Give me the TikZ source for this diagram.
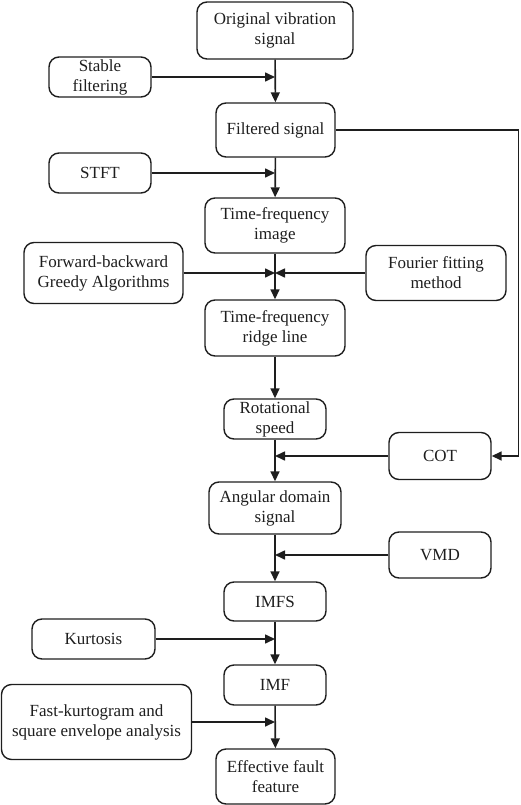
\documentclass[tikz,border=0pt]{standalone}
\usepackage{fontspec}
\setmainfont{Liberation Serif}
\usetikzlibrary{arrows.meta}
\definecolor{ink}{HTML}{1E1E1E}
\tikzset{
  box/.style={draw=ink, line width=1.4pt, rounded corners=10pt, align=center, inner sep=0pt,
    font=\fontsize{17}{20}\selectfont, text=ink},
  conn/.style={draw=ink, line width=1.6pt, -{Triangle[length=10pt,width=9pt]}}
}
\begin{document}
\begin{tikzpicture}[x=1pt,y=-1pt]
\useasboundingbox (0,0) rectangle (520,805);
\node[box, minimum width=156pt, minimum height=57pt] (orig) at (275,30.5) {Original vibration\\signal};
\node[box, minimum width=102pt, minimum height=40pt] (stable) at (100,77) {Stable\\filtering};
\node[box, minimum width=119pt, minimum height=54pt] (filt) at (275.5,130) {Filtered signal};
\node[box, minimum width=102pt, minimum height=40pt] (stft) at (100,173) {STFT};
\node[box, minimum width=140pt, minimum height=55pt] (tfi) at (275,225.5) {Time-frequency\\image};
\node[box, minimum width=159pt, minimum height=61pt] (fb) at (103.5,273) {Forward-backward\\Greedy Algorithms};
\node[box, minimum width=140pt, minimum height=55pt] (ff) at (436,273) {Fourier fitting\\method};
\node[box, minimum width=140pt, minimum height=56pt] (ridge) at (275,328) {Time-frequency\\ridge line};
\node[box, minimum width=102pt, minimum height=40pt] (rot) at (275,419) {Rotational\\speed};
\node[box, minimum width=102pt, minimum height=47pt] (cot) at (440,456) {COT};
\node[box, minimum width=132pt, minimum height=52pt] (ang) at (275,508) {Angular domain\\signal};
\node[box, minimum width=102pt, minimum height=46pt] (vmd) at (440,555) {VMD};
\node[box, minimum width=102pt, minimum height=39pt] (imfs) at (275,601.5) {IMFS};
\node[box, minimum width=123pt, minimum height=40pt] (kurt) at (93.5,639) {Kurtosis};
\node[box, minimum width=102pt, minimum height=40pt] (imf) at (275,685) {IMF};
\node[box, minimum width=190pt, minimum height=75pt] (fk) at (96.5,722) {Fast-kurtogram and\\square envelope analysis};
\node[box, minimum width=119pt, minimum height=55pt] (eff) at (275.5,776.5) {Effective fault\\feature};
\coordinate (corner1) at (518.5,130);
\coordinate (corner2) at (518.5,456);
% main flow
\draw[conn] (orig) -- (filt);
\draw[conn] (filt) -- (tfi);
\draw[conn] (tfi) -- (ridge);
\draw[conn] (ridge) -- (rot);
\draw[conn] (rot) -- (ang);
\draw[conn] (ang) -- (imfs);
\draw[conn] (imfs) -- (imf);
\draw[conn] (imf) -- (eff);
% side inputs
\draw[conn] (stable.east) -- (stable.east -| orig.south);
\draw[conn] (stft.east) -- (stft.east -| orig.south);
\draw[conn] (fb.east) -- (fb.east -| orig.south);
\draw[conn] (ff.west) -- (ff.west -| orig.south);
\draw[conn] (cot.west) -- (cot.west -| orig.south);
\draw[conn] (vmd.west) -- (vmd.west -| orig.south);
\draw[conn] (kurt.east) -- (kurt.east -| orig.south);
\draw[conn] (fk.east) -- (fk.east -| orig.south);
% feedback
\draw[conn] (filt.east) -- (corner1) -- (corner2) -- (cot.east);
\end{tikzpicture}
\end{document}
